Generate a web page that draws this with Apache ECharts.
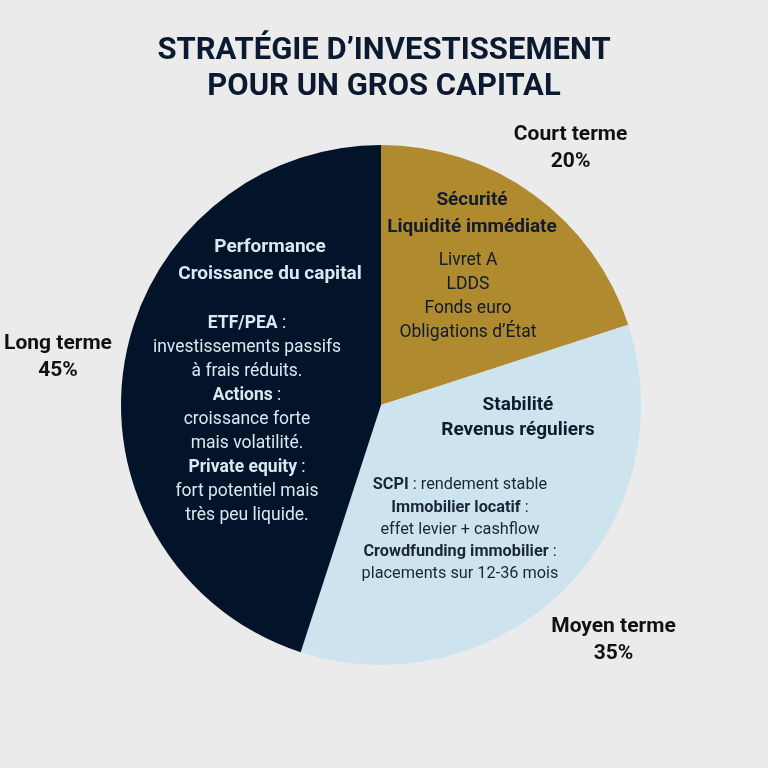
<!DOCTYPE html>
<html>
<head>
<meta charset="utf-8">
<script src="https://cdn.jsdelivr.net/npm/echarts@6/dist/echarts.min.js"></script>
<style>
html,body{margin:0;padding:0;background:#ebebeb;}
#main{width:768px;height:768px;}
</style>
</head>
<body>
<div id="main"></div>
<script>
// horizons de placement et leur part
var horizons = ['Court terme', 'Moyen terme', 'Long terme'];
var parts = [20, 35, 45];
var couleurs = ['#b08a2e', '#cde4ee', '#03132a'];

// textes dans les parts
var titreCourt = ['Sécurité', 'Liquidité immédiate'];
var texteCourt = ['Livret A', 'LDDS', 'Fonds euro', 'Obligations d’État'];
var titreMoyen = ['Stabilité', 'Revenus réguliers'];
var texteMoyen = ['{b|SCPI} : rendement stable', '{b|Immobilier locatif} :', 'effet levier + cashflow',
  '{b|Crowdfunding immobilier} :', 'placements sur 12-36 mois'];
var titreLong = ['Performance', 'Croissance du capital'];
var texteLong = ['{b|ETF/PEA} :', 'investissements passifs', 'à frais réduits.', '{b|Actions} :',
  'croissance forte', 'mais volatilité.', '{b|Private equity} :', 'fort potentiel mais', 'très peu liquide.'];

var police = 'Roboto, "Noto Sans", sans-serif';

function bloc(x, y, lignes, taille, gras, couleur, hl) {
  return {
    type: 'text', x: x, y: y, z: 100, silent: true,
    style: {
      text: lignes.join('\n'),
      fill: couleur,
      fontFamily: police,
      fontSize: taille,
      fontWeight: gras ? 'bold' : 'normal',
      lineHeight: hl,
      align: 'center',
      verticalAlign: 'top',
      rich: {
        b: { fontFamily: police, fontSize: taille, fontWeight: 'bold', fill: couleur, lineHeight: hl }
      }
    }
  };
}

var data = horizons.map(function (h, i) {
  return { name: h, value: parts[i], itemStyle: { color: couleurs[i] } };
});

// petits décalages des étiquettes extérieures
var decalages = [[-2, 7], [2, 5], [-1, 3]];

var myChart = echarts.init(document.getElementById('main'));
var option = {
  backgroundColor: '#ebebeb',
  title: {
    text: 'STRATÉGIE D’INVESTISSEMENT\nPOUR UN GROS CAPITAL',
    left: 'center',
    top: 28,
    textStyle: { fontFamily: police, fontSize: 31, fontWeight: 'bold', color: '#0b1a30', lineHeight: 36 }
  },
  series: [
    {
      type: 'pie',
      center: [381, 405],
      radius: [0, 260],
      startAngle: 90,
      silent: true,
      label: { show: false },
      labelLine: { show: false },
      itemStyle: { borderWidth: 0 },
      data: data
    },
    {
      // anneau invisible pour placer les étiquettes extérieures
      type: 'pie',
      center: [381, 405],
      radius: [300, 346],
      startAngle: 90,
      silent: true,
      itemStyle: { color: 'transparent', borderWidth: 0 },
      label: {
        show: true,
        position: 'inside',
        formatter: '{b}\n{d}%',
        fontFamily: police,
        fontSize: 21,
        fontWeight: 'bold',
        color: '#111111',
        lineHeight: 27
      },
      labelLine: { show: false },
      data: horizons.map(function (h, i) {
        return { name: h, value: parts[i], label: { offset: decalages[i] } };
      })
    }
  ],
  graphic: [
    bloc(472, 187, titreCourt, 19, true, '#0f1b2e', 27),
    bloc(468, 248, texteCourt, 17.5, false, '#0f1b2e', 24.3),
    bloc(518, 393, titreMoyen, 19, true, '#0f1b2e', 25),
    bloc(460, 474, texteMoyen, 16.3, false, '#1a2538', 22.3),
    bloc(270, 234, titreLong, 19, true, '#d9e8f1', 27),
    bloc(247, 312, texteLong, 17.5, false, '#d9e8f1', 24)
  ]
};
myChart.setOption(option);
</script>
</body>
</html>
